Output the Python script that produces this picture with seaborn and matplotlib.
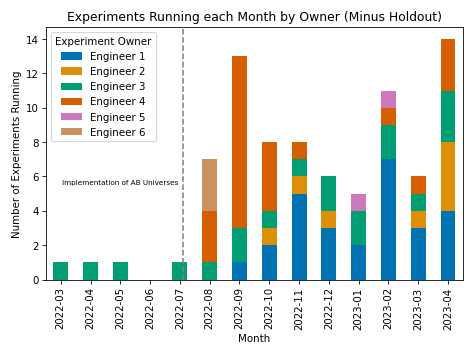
import pandas as pd
import seaborn as sns
import matplotlib.pyplot as plt

# Stacked counts per month, one list per owner.
months = ["2022-03", "2022-04", "2022-05", "2022-06", "2022-07", "2022-08", "2022-09",
          "2022-10", "2022-11", "2022-12", "2023-01", "2023-02", "2023-03", "2023-04"]
engineer_1 = [0, 0, 0, 0, 0, 0, 1, 2, 5, 3, 2, 7, 3, 4]
engineer_2 = [0, 0, 0, 0, 0, 0, 0, 1, 1, 1, 0, 0, 1, 4]
engineer_3 = [1, 1, 1, 0, 1, 1, 2, 1, 1, 2, 2, 2, 1, 3]
engineer_4 = [0, 0, 0, 0, 0, 3, 10, 4, 1, 0, 0, 1, 1, 3]
engineer_5 = [0, 0, 0, 0, 0, 0, 0, 0, 0, 0, 1, 1, 0, 0]
engineer_6 = [0, 0, 0, 0, 0, 3, 0, 0, 0, 0, 0, 0, 0, 0]

df = pd.DataFrame({
    "Engineer 1": engineer_1,
    "Engineer 2": engineer_2,
    "Engineer 3": engineer_3,
    "Engineer 4": engineer_4,
    "Engineer 5": engineer_5,
    "Engineer 6": engineer_6,
}, index = months)

palette = sns.color_palette("colorblind", 6)

fig, ax = plt.subplots(figsize = (6.4, 4.8))
df.plot(kind = "bar", stacked = True, color = palette, ax = ax)

ax.axvline(x = 4.1, color = "grey", linestyle = "--")
ax.text(3.95, 5.65, "Implementation of AB Universes", fontsize = 7, ha = "right", va = "center")

ax.set_title("Experiments Running each Month by Owner (Minus Holdout)")
ax.set_xlabel("Month")
ax.set_ylabel("Number of Experiments Running")
ax.legend(title = "Experiment Owner", loc = "upper left")
plt.tight_layout()
plt.savefig("out.png", dpi = 74.07)
